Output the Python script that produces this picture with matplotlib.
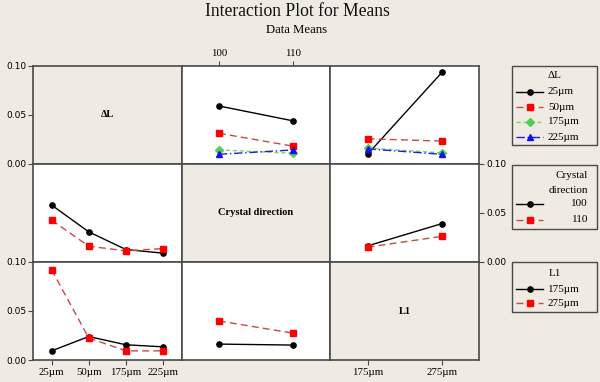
import matplotlib
matplotlib.use("Agg")
import matplotlib.pyplot as plt
from matplotlib.patches import Rectangle
from matplotlib.lines import Line2D

# ---------------- data ----------------
dL_levels = ["25µm", "50µm", "175µm", "225µm"]
cd_levels = ["100", "110"]
l1_levels = ["175µm", "275µm"]

# Row 1: mean response by crystal direction / L1, one line per ΔL level
r1_cd = {
    "25µm": [0.0588, 0.0436],
    "50µm": [0.0310, 0.0178],
    "175µm": [0.0140, 0.0106],
    "225µm": [0.0096, 0.0140],
}
r1_l1 = {
    "25µm": [0.0096, 0.0930],
    "50µm": [0.0254, 0.0230],
    "175µm": [0.0160, 0.0110],
    "225µm": [0.0151, 0.0096],
}
# Row 2: by ΔL / L1, one line per crystal direction
r2_dl = {
    "100": [0.0579, 0.0306, 0.0126, 0.0089],
    "110": [0.0426, 0.0160, 0.0112, 0.0136],
}
r2_l1 = {
    "100": [0.0163, 0.0390],
    "110": [0.0150, 0.0260],
}
# Row 3: by ΔL / crystal direction, one line per L1
r3_dl = {
    "175µm": [0.0094, 0.0240, 0.0156, 0.0135],
    "275µm": [0.0920, 0.0225, 0.0094, 0.0094],
}
r3_cd = {
    "175µm": [0.0163, 0.0153],
    "275µm": [0.0399, 0.0274],
}

# ---------------- styles ----------------
BG = "#EFEBE3"
EDGE = "#4a4a4a"
SERIF = "Liberation Serif"
SANS = "DejaVu Sans"
MS = 3.8

sty4 = [
    dict(color="black", ls="-", marker="o", mfc="black", mec="black"),
    dict(color="#c84848", ls=(0, (5, 3)), marker="s", mfc="#ff0000", mec="#ff0000"),
    dict(color="#7fcf7f", ls=(0, (3, 2)), marker="D", mfc="#55cc55", mec="#55cc55"),
    dict(color="#2020d0", ls=(0, (6, 2, 1, 2)), marker="^", mfc="#1010f0", mec="#1010f0"),
]
sty2 = sty4[:2]

W, H = 600, 382
fig = plt.figure(figsize=(W / 100, H / 100), dpi=100, facecolor=BG)

x0, y0 = 33.0, 65.5
pw, ph = 148.7, 98.2


def panel(r, c):
    left = (x0 + c * pw) / W
    bottom = (H - (y0 + (r + 1) * ph)) / H
    ax = fig.add_axes([left, bottom, pw / W, ph / H])
    for s in ax.spines.values():
        s.set_color(EDGE)
        s.set_linewidth(1.2)
    ax.set_ylim(0, 0.10)
    ax.set_yticks([0.0, 0.05, 0.10])
    ax.tick_params(length=3.5, width=0.8, color=EDGE, pad=1.5)
    ax.tick_params(axis="y", left=False, right=False, labelleft=False, labelright=False)
    ax.tick_params(axis="x", bottom=False, top=False, labelbottom=False, labeltop=False)
    return ax


nlev = [4, 2, 2]
xl = [dL_levels, cd_levels, l1_levels]
axes = {}
for r in range(3):
    for c in range(3):
        ax = panel(r, c)
        n = nlev[c]
        ax.set_xlim(0.5, n + 0.5)
        ax.set_xticks(range(1, n + 1))
        ax.set_xticklabels(xl[c], fontfamily=SERIF, fontsize=7.8)
        ax.set_facecolor(BG if r == c else "white")
        axes[(r, c)] = ax

# diagonal labels
diag = ["ΔL", "Crystal direction", "L1"]
for i, lab in enumerate(diag):
    axes[(i, i)].text(0.5, 0.5, lab, transform=axes[(i, i)].transAxes,
                      ha="center", va="center", fontfamily=SERIF,
                      fontweight="bold", fontsize=7.5)

# tick visibility
for a, side in ((axes[(0, 0)], "left"), (axes[(2, 0)], "left"), (axes[(1, 2)], "right")):
    if side == "left":
        a.tick_params(axis="y", left=True, labelleft=True)
    else:
        a.tick_params(axis="y", right=True, labelright=True)
    a.set_yticklabels(["0.00", "0.05", "0.10"], fontfamily=SANS, fontsize=6.5)
axes[(0, 1)].tick_params(axis="x", top=True, labeltop=True, pad=2)
axes[(2, 0)].tick_params(axis="x", bottom=True, labelbottom=True, pad=2)
axes[(2, 2)].tick_params(axis="x", bottom=True, labelbottom=True, pad=2)


def draw(ax, series, styles):
    for (k, vals), st in zip(series.items(), styles):
        ax.plot(range(1, len(vals) + 1), vals, color=st["color"], ls=st["ls"],
                lw=1.0, marker=st["marker"], ms=MS, mfc=st["mfc"], mec=st["mec"],
                clip_on=False)


draw(axes[(0, 1)], r1_cd, sty4)
draw(axes[(0, 2)], r1_l1, sty4)
draw(axes[(1, 0)], r2_dl, sty2)
draw(axes[(1, 2)], r2_l1, sty2)
draw(axes[(2, 0)], r3_dl, sty2)
draw(axes[(2, 1)], r3_cd, sty2)

# titles
fig.text(297 / W, 1 - 15.7 / H, "Interaction Plot for Means", ha="center", va="baseline",
         fontfamily=SERIF, fontsize=12.7, color="#111111")
fig.text(297 / W, 1 - 33.3 / H, "Data Means", ha="center", va="baseline",
         fontfamily=SERIF, fontsize=9.2)

# legends on an overlay in pixel space
ov = fig.add_axes([0, 0, 1, 1], facecolor="none")
ov.set_xlim(0, W)
ov.set_ylim(H, 0)
ov.axis("off")


def legend_box(y_top, y_bot, title_lines, title_align, labels, styles, entry_ys,
               title_ys, label_align):
    ov.add_patch(Rectangle((512, y_top), 85, y_bot - y_top, fill=False,
                           ec=EDGE, lw=1.0))
    for tl, ty in zip(title_lines, title_ys):
        if title_align == "center":
            ov.text(555, ty, tl, ha="center", va="center", fontfamily=SERIF, fontsize=8)
        else:
            ov.text(588, ty, tl, ha="right", va="center", fontfamily=SERIF, fontsize=8)
    for lab, st, ey in zip(labels, styles, entry_ys):
        ov.add_line(Line2D([516, 543], [ey, ey], color=st["color"], ls=st["ls"], lw=1.0))
        ov.add_line(Line2D([530], [ey], marker=st["marker"], ms=MS, mfc=st["mfc"],
                           mec=st["mec"], ls="none"))
        if label_align == "left":
            ov.text(548, ey, lab, ha="left", va="center", fontfamily=SERIF, fontsize=8)
        else:
            ov.text(588, ey, lab, ha="right", va="center", fontfamily=SERIF, fontsize=8)


legend_box(66, 145, ["ΔL"], "center", dL_levels, sty4, [92, 107, 122, 137], [76], "left")
legend_box(165, 229, ["Crystal", "direction"], "right", cd_levels, sty2, [204, 220],
           [175, 190.5], "right")
legend_box(262, 312, ["L1"], "center", l1_levels, sty2, [289, 303], [273], "left")

fig.savefig("out.png", dpi=100, facecolor=BG)
